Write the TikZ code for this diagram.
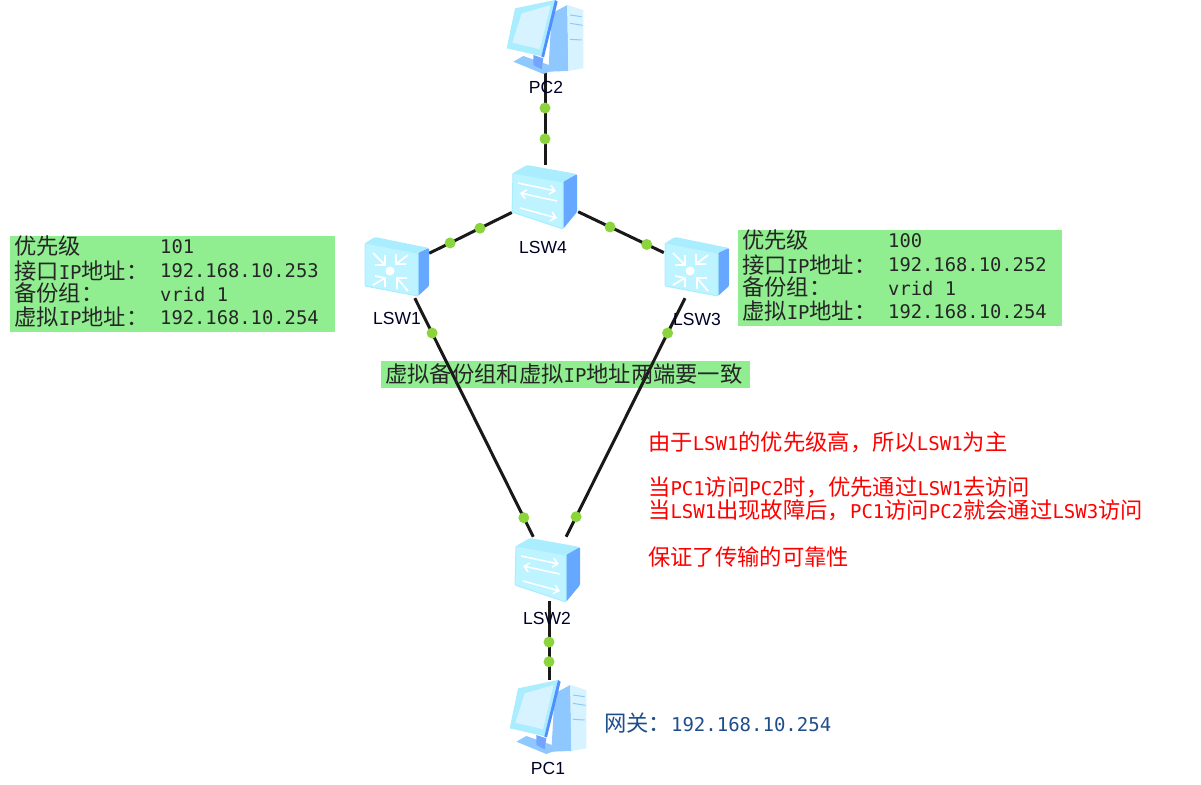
\documentclass[tikz,border=0pt]{standalone}
\usepackage{fontspec}
\setmainfont{Noto Sans CJK SC}
\setmonofont{DejaVu Sans Mono}
\newfontfamily\labelfont{Liberation Sans}
\usetikzlibrary{arrows.meta}
\newcommand{\ml}[1]{{\ttfamily\fontsize{18.8pt}{20pt}\selectfont #1}}
\newcommand{\ms}[1]{{\ttfamily\fontsize{19pt}{20pt}\selectfont #1}}
\definecolor{boxgreen}{HTML}{90EE90}
\definecolor{dotgreen}{HTML}{8CD43C}
\definecolor{blueA}{HTML}{A9EDFF}
\definecolor{blueB}{HTML}{BDF4FF}
\definecolor{blueC}{HTML}{66A8FF}
\definecolor{blueD}{HTML}{8FC8FF}
\definecolor{blueE}{HTML}{4F8FFF}
\definecolor{blueF}{HTML}{D6F3FF}
\definecolor{gwblue}{HTML}{1F4E8C}
\tikzset{
  x=1pt,y=-1pt,
  link/.style={draw=black!90,line width=3pt},
  portdot/.style={circle,fill=dotgreen,draw=none,minimum size=11pt,inner sep=0pt},
  device/.style={draw=none,inner sep=0pt,minimum width=#1},
  devlabel/.style={font=\labelfont\fontsize{17.5pt}{20pt}\selectfont,text=black!85!blue,inner sep=0pt},
  greenbox/.style={fill=boxgreen,draw=none},
  notetext/.style={anchor=west,inner sep=0pt,font=\fontsize{22.3pt}{24pt}\selectfont,text=black!85},
  redtext/.style={anchor=west,inner sep=0pt,font=\fontsize{22.3pt}{24pt}\selectfont,text=red},
  pics/switchicon/.style={code={
    \fill[blueA,rounded corners=1.5pt] (0,0)--(14,-8)--(64,1)--(50,9)--cycle;
    \fill[blueC,rounded corners=1pt] (50,9)--(64,1)--(64,39)--(50,56)--cycle;
    \filldraw[fill=blueB,draw=blueA,line width=1pt,rounded corners=1pt] (0,0)--(50,9)--(50,56)--(-1,39)--cycle;
    \draw[white,line width=1.6pt,-{Straight Barb[length=5pt,width=9pt]}] (5,10)--(43,18);
    \draw[white,line width=1.6pt,-{Straight Barb[length=5pt,width=9pt]}] (44,28)--(7,20);
    \draw[white,line width=1.6pt,-{Straight Barb[length=5pt,width=9pt]}] (7,35)--(44,45);
  }},
  pics/routericon/.style={code={
    \fill[blueA,rounded corners=1.5pt] (0,0)--(10,-6)--(64,5)--(53,10)--cycle;
    \fill[blueC,rounded corners=1pt] (53,10)--(64,5)--(64,43)--(53,53)--cycle;
    \filldraw[fill=blueB,draw=blueA,line width=1pt,rounded corners=1pt] (0,0)--(53,10)--(53,53)--(0,43)--cycle;
    \fill[white] (25,28) circle (4.5pt);
    \draw[white,line width=1.8pt] (8,10)--(20,22) (10,22)--(20,22)--(20,12);
    \draw[white,line width=1.8pt] (43,12)--(31,21) (31,11)--(31,21)--(41,21);
    \draw[white,line width=1.8pt] (8,42)--(20,35) (10,33)--(20,35)--(20,44);
    \draw[white,line width=1.8pt] (43,48)--(32,35) (42,35)--(32,35)--(32,46);
  }},
  pics/pcicon/.style={code={
    \begin{scope}[x=0.3333pt,y=-0.3333pt]
    \fill[blueD] (215,40)--(262,15)--(265,213)--(205,215)--cycle;
    \fill[blueF] (262,15)--(310,30)--(310,205)--(265,213)--cycle;
    \draw[blueD,line width=1pt] (270,45)--(305,50) (270,70)--(308,76) (270,118)--(305,120);
    \fill[blueD] (100,185)--(130,168)--(235,205)--(190,222)--cycle;
    \fill[blueE!80!white] (160,165)--(190,175)--(185,208)--(160,195)--cycle;
    \fill[blueA] (105,25)--(225,0)--(190,170)--(80,145)--cycle;
    \fill[blueF] (125,40)--(212,15)--(180,148)--(97,128)--cycle;
    \fill[blueE] (225,0)--(233,5)--(192,172)--(184,170)--cycle;
    \end{scope}
  }},
}
\begin{document}
\begin{tikzpicture}
\useasboundingbox (0,0) rectangle (1201,784);
% green backgrounds
\node[greenbox,anchor=north west,minimum width=325pt,minimum height=96pt,inner sep=0pt] (boxl) at (10,236) {};
\node[greenbox,anchor=north west,minimum width=324pt,minimum height=96pt,inner sep=0pt] (boxr) at (738,230) {};
\node[greenbox,anchor=north west,minimum width=369pt,minimum height=27pt,inner sep=0pt] (boxm) at (381,361) {};
% device boxes
\node[device=80pt,minimum height=72pt] (pc2) at (545,36) {};
\node[device=66pt,minimum height=64pt] (lsw4) at (545,197) {};
\node[device=65pt,minimum height=63pt] (lsw1) at (396.5,266.5) {};
\node[device=65pt,minimum height=63pt] (lsw3) at (696.5,266.5) {};
\node[device=66pt,minimum height=64pt] (lsw2) at (549,569) {};
\node[device=78pt,minimum height=72pt] (pc1) at (549,716) {};
% links
\draw[link] (pc2) -- node[portdot,pos=.387] (d1) {} node[portdot,pos=.72] (d2) {} (lsw4);
\draw[link] (lsw1.22.6) -- node[portdot,pos=.253] (d3) {} node[portdot,pos=.614] (d4) {} (lsw4.205.9);
\draw[link] (lsw4.-24.4) -- node[portdot,pos=.372] (d5) {} node[portdot,pos=.80] (d6) {} (lsw3.157.4);
\draw[link] (lsw1.-60.9) -- node[portdot,pos=.146] (d7) {} node[portdot,pos=.92] (d8) {} (lsw2.116.6);
\draw[link] (lsw3.250) -- node[portdot,pos=.146] (d9) {} node[portdot,pos=.916] (d10) {} (lsw2.62.7);
\draw[link] (lsw2) -- node[portdot,pos=.52] (d11) {} node[portdot,pos=.77] (d12) {} (pc1);
% icons
\pic at (480,0) {pcicon};
\pic at (483,680) {pcicon};
\pic at (513,173) {switchicon};
\pic at (516,546) {switchicon};
\pic at (365,243) {routericon};
\pic at (665,243) {routericon};
% labels
\node[devlabel] (lpc2) at (546,87) {PC2};
\node[devlabel] (llsw4) at (543,247) {LSW4};
\node[devlabel] (llsw1) at (397,318) {LSW1};
\node[devlabel] (llsw3) at (697,319) {LSW3};
\node[devlabel] (llsw2) at (547,618) {LSW2};
\node[devlabel] (lpc1) at (548,768) {PC1};
% left box
\node[notetext] (l1) at (14,246) {优先级};
\node[notetext] (l2) at (14,271) {接口\ms{IP}地址：};
\node[notetext] (l3) at (14,293) {备份组：};
\node[notetext] (l4) at (14,317) {虚拟\ms{IP}地址：};
\node[notetext] (lv1) at (160,247) {\ml{101}};
\node[notetext] (lv2) at (160,271) {\ml{192.168.10.253}};
\node[notetext] (lv3) at (160,294) {\ml{vrid 1}};
\node[notetext] (lv4) at (160,318) {\ml{192.168.10.254}};
% right box
\node[notetext] (r1) at (742,240) {优先级};
\node[notetext] (r2) at (742,265) {接口\ms{IP}地址：};
\node[notetext] (r3) at (742,287) {备份组：};
\node[notetext] (r4) at (742,311) {虚拟\ms{IP}地址：};
\node[notetext] (rv1) at (888,241) {\ml{100}};
\node[notetext] (rv2) at (888,265) {\ml{192.168.10.252}};
\node[notetext] (rv3) at (888,288) {\ml{vrid 1}};
\node[notetext] (rv4) at (888,312) {\ml{192.168.10.254}};
% middle
\node[notetext] (mid) at (385,374) {虚拟备份组和虚拟\ms{IP}地址两端要一致};
% red text
\node[redtext] (t1) at (648,442) {由于\ms{LSW1}的优先级高，所以\ms{LSW1}为主};
\node[redtext] (t2) at (648,487) {当\ms{PC1}访问\ms{PC2}时，优先通过\ms{LSW1}去访问};
\node[redtext] (t3) at (648,510) {当\ms{LSW1}出现故障后，\ms{PC1}访问\ms{PC2}就会通过\ms{LSW3}访问};
\node[redtext] (t4) at (648,557) {保证了传输的可靠性};
% gateway
\node[notetext,text=gwblue] (gw) at (604,723) {网关：\ms{192.168.10.254}};
\end{tikzpicture}
\end{document}
